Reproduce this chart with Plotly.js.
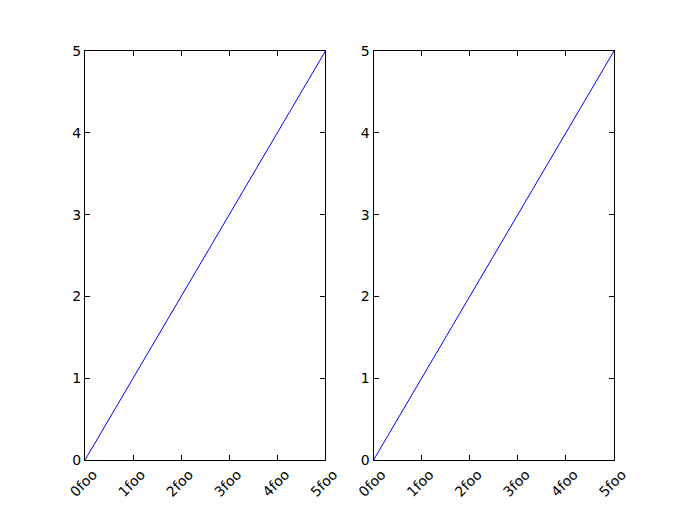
<!DOCTYPE html>
<html>
<head>
<meta charset="utf-8">
<script src="https://cdn.plot.ly/plotly-3.0.1.min.js"></script>
<style>html,body{margin:0;padding:0;background:#fff;}#chart{width:682px;height:511px;}</style>
</head>
<body>
<div id="chart"></div>
<script>
var xValues = [0, 1, 2, 3, 4, 5];
var yValues = [0, 1, 2, 3, 4, 5];
var xTickVals = [0, 1, 2, 3, 4, 5];
var xTickLabels = ['0foo', '1foo', '2foo', '3foo', '4foo', '5foo'];
var yTickVals = [0, 1, 2, 3, 4, 5];

var lineStyle = {color: '#0000ff', width: 1};
var traces = [
  {x: xValues, y: yValues, type: 'scatter', mode: 'lines', line: lineStyle, xaxis: 'x', yaxis: 'y', hoverinfo: 'skip'},
  {x: xValues, y: yValues, type: 'scatter', mode: 'lines', line: lineStyle, xaxis: 'x2', yaxis: 'y2', hoverinfo: 'skip'}
];

function xAxis(domain, anchor) {
  return {
    domain: domain, anchor: anchor, range: [0, 5],
    tickmode: 'array', tickvals: xTickVals, ticktext: xTickLabels,
    tickangle: -45, ticks: 'inside', ticklen: 5, tickwidth: 1, tickcolor: '#000',
    showline: true, linecolor: '#000', linewidth: 1, mirror: 'ticks',
    showgrid: false, zeroline: false, ticklabelshift: 8,
    tickfont: {family: 'DejaVu Sans', size: 14, color: '#000'}, fixedrange: true
  };
}
function yAxis(anchor) {
  return {
    domain: [0, 1], anchor: anchor, range: [0, 5],
    tickmode: 'array', tickvals: yTickVals,
    ticks: 'inside', ticklen: 5, tickwidth: 1, tickcolor: '#000',
    showline: true, linecolor: '#000', linewidth: 1, mirror: 'ticks',
    showgrid: false, zeroline: false,
    tickfont: {family: 'DejaVu Sans', size: 14, color: '#000'}, fixedrange: true
  };
}

var layout = {
  width: 682, height: 511,
  margin: {l: 85.25, r: 68.2, t: 51.1, b: 51.1, pad: 0},
  paper_bgcolor: '#ffffff', plot_bgcolor: '#ffffff',
  showlegend: false,
  xaxis: xAxis([0, 0.4545], 'y'),
  yaxis: yAxis('x'),
  xaxis2: xAxis([0.5455, 1], 'y2'),
  yaxis2: yAxis('x2')
};

Plotly.newPlot('chart', traces, layout, {displayModeBar: false, staticPlot: true});
</script>
</body>
</html>
